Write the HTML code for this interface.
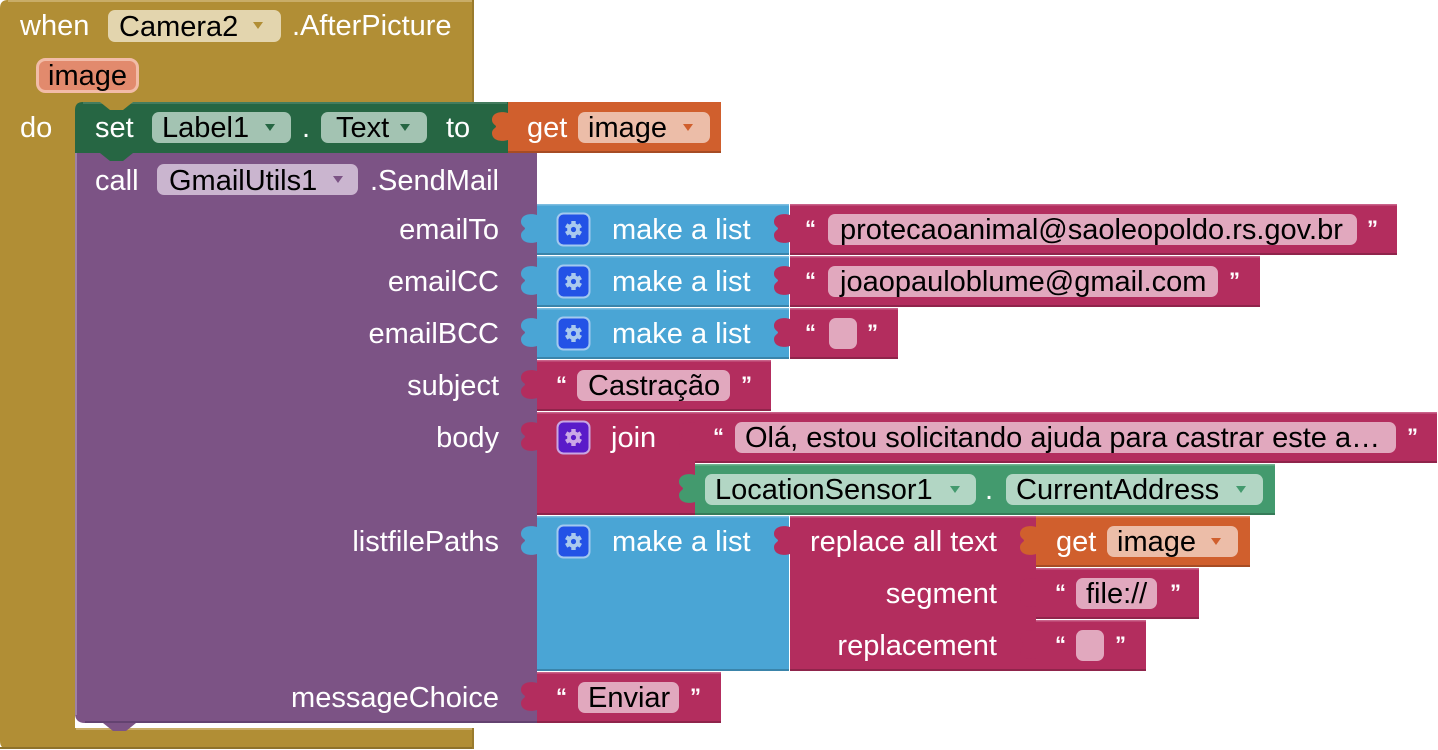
<!DOCTYPE html>
<html><head><meta charset="utf-8">
<style>
html,body{margin:0;padding:0;background:#fff;}
svg{display:block}
text{font-family:"Liberation Sans",Arial,sans-serif;font-size:29px;}
.w{fill:#fff}
.k{fill:#000}
.q{font-size:22px;font-weight:bold;fill:#fff}
</style></head>
<body>
<svg width="1438" height="750" viewBox="0 0 1438 750" xmlns="http://www.w3.org/2000/svg">
<!-- gold event block -->
<path d="M0,8 Q0,0 8,0 H474 V102 H75 V728 H474 V749 H8 Q0,749 0,741 Z" fill="#B18E35"/>
<rect x="74" y="101" width="20" height="14" fill="#B18E35"/>
<path d="M8,1 H473" stroke="#C9AD68" stroke-width="2"/>
<path d="M76,729 H473" stroke="#C9AD68" stroke-width="2"/>
<rect x="0" y="747" width="474" height="2" fill="#8E722A"/>
<rect x="472" y="0" width="2" height="102" fill="#9A7B2D"/>
<rect x="472" y="728" width="2" height="21" fill="#9A7B2D"/>

<rect x="108" y="10" width="173" height="32" rx="7" fill="#E3D5AE"/>
<text x="119" y="36" class="k">Camera2</text>
<polygon points="253,22 263,22 258,29" fill="#B18E35"/>
<text x="20" y="35" class="w">when</text>
<text x="292" y="35" class="w">.AfterPicture</text>
<rect x="37.5" y="59.5" width="100" height="32" rx="8" fill="#E28A6D" stroke="#F2BCA8" stroke-width="3"/>
<text x="48" y="85" class="k">image</text>
<text x="20" y="137" class="w">do</text>

<!-- purple call block -->
<path d="M75,153 H537 V723 H85 Q75,723 75,713 Z" fill="#7C5385"/>
<polygon points="103,723 113,731 126,731 136,723" fill="#7C5385"/>
<rect x="75" y="153" width="2" height="562" fill="#9E82A5"/>
<rect x="85" y="721" width="452" height="2" fill="#634270"/>

<!-- green set block -->
<path d="M83,102 H508 V153 H75 V110 Q75,102 83,102 Z" fill="#266643"/>
<path d="M83,103 H507" stroke="#4F8468" stroke-width="1.5"/>
<polygon points="100,102 110,110 123,110 133,102" fill="#B18E35"/>
<polygon points="100,153 110,161 123,161 133,153" fill="#266643"/>
<text x="95" y="137" class="w">set</text>
<rect x="152" y="112" width="139" height="31" rx="7" fill="#A3C3B2"/>
<text x="162" y="137" class="k">Label1</text>
<polygon points="265,124 275,124 270,131" fill="#266643"/>
<text x="302" y="137" class="w">.</text>
<rect x="321" y="112" width="106" height="31" rx="7" fill="#A3C3B2"/>
<text x="336" y="137" class="k">Text</text>
<polygon points="400,124 410,124 405,131" fill="#266643"/>
<text x="446" y="137" class="w">to</text>

<!-- get image (top) -->
<rect x="508" y="102" width="213" height="51" fill="#D05F2D"/>
<rect x="508" y="151" width="213" height="2" fill="#A64C24"/>
<path transform="translate(508,102)" d="M0,11 C-6,9 -16,10 -16,18 C-16,22 -12,23 -12,24.5 C-12,26 -16,27 -16,31 C-16,39 -6,40 0,38 Z" fill="#D05F2D"/>
<text x="527" y="137" class="w">get</text>
<rect x="578" y="112" width="132" height="31" rx="7" fill="#ECBDA8"/>
<text x="588" y="137" class="k">image</text>
<polygon points="683,124 693,124 688,131" fill="#D05F2D"/>

<!-- call row -->
<text x="95" y="190" class="w">call</text>
<rect x="157" y="164" width="201" height="31" rx="7" fill="#CAB5CF"/>
<text x="169" y="190" class="k">GmailUtils1</text>
<polygon points="333,176 343,176 338,183" fill="#7C5385"/>
<text x="370" y="190" class="w">.SendMail</text>

<g text-anchor="end">
<text x="499" y="239" class="w">emailTo</text>
<text x="499" y="291" class="w">emailCC</text>
<text x="499" y="343" class="w">emailBCC</text>
<text x="499" y="395" class="w">subject</text>
<text x="499" y="447" class="w">body</text>
<text x="499" y="551" class="w">listfilePaths</text>
<text x="499" y="707" class="w">messageChoice</text>
</g>

<!-- blue make a list blocks -->
<g>
<rect x="537" y="204" width="252" height="51" fill="#4AA5D5"/>
<rect x="537" y="204" width="252" height="1.5" fill="#7DBDE0"/>
<rect x="537" y="253" width="252" height="2" fill="#3A84AA"/>
<path transform="translate(537,204)" d="M0,11 C-6,9 -16,10 -16,18 C-16,22 -12,23 -12,24.5 C-12,26 -16,27 -16,31 C-16,39 -6,40 0,38 Z" fill="#4AA5D5"/>
<rect x="557.5" y="213.5" width="32" height="32" rx="6" fill="#2352E6" stroke="#A3C9EF" stroke-width="2"/>
<g transform="translate(573.5,229.5)" fill="#A9C9EE"><rect x="-2.2" y="-8.5" width="4.4" height="17"/><rect x="-2.2" y="-8.5" width="4.4" height="17" transform="rotate(60)"/><rect x="-2.2" y="-8.5" width="4.4" height="17" transform="rotate(120)"/><circle r="6.3"/><circle r="2.6" fill="#2352E6"/></g>
<text x="612" y="239" class="w">make a list</text>
</g>
<g>
<rect x="537" y="256" width="252" height="51" fill="#4AA5D5"/>
<rect x="537" y="256" width="252" height="1.5" fill="#7DBDE0"/>
<rect x="537" y="305" width="252" height="2" fill="#3A84AA"/>
<path transform="translate(537,256)" d="M0,11 C-6,9 -16,10 -16,18 C-16,22 -12,23 -12,24.5 C-12,26 -16,27 -16,31 C-16,39 -6,40 0,38 Z" fill="#4AA5D5"/>
<rect x="557.5" y="265.5" width="32" height="32" rx="6" fill="#2352E6" stroke="#A3C9EF" stroke-width="2"/>
<g transform="translate(573.5,281.5)" fill="#A9C9EE"><rect x="-2.2" y="-8.5" width="4.4" height="17"/><rect x="-2.2" y="-8.5" width="4.4" height="17" transform="rotate(60)"/><rect x="-2.2" y="-8.5" width="4.4" height="17" transform="rotate(120)"/><circle r="6.3"/><circle r="2.6" fill="#2352E6"/></g>
<text x="612" y="291" class="w">make a list</text>
</g>
<g>
<rect x="537" y="308" width="252" height="51" fill="#4AA5D5"/>
<rect x="537" y="308" width="252" height="1.5" fill="#7DBDE0"/>
<rect x="537" y="357" width="252" height="2" fill="#3A84AA"/>
<path transform="translate(537,308)" d="M0,11 C-6,9 -16,10 -16,18 C-16,22 -12,23 -12,24.5 C-12,26 -16,27 -16,31 C-16,39 -6,40 0,38 Z" fill="#4AA5D5"/>
<rect x="557.5" y="317.5" width="32" height="32" rx="6" fill="#2352E6" stroke="#A3C9EF" stroke-width="2"/>
<g transform="translate(573.5,333.5)" fill="#A9C9EE"><rect x="-2.2" y="-8.5" width="4.4" height="17"/><rect x="-2.2" y="-8.5" width="4.4" height="17" transform="rotate(60)"/><rect x="-2.2" y="-8.5" width="4.4" height="17" transform="rotate(120)"/><circle r="6.3"/><circle r="2.6" fill="#2352E6"/></g>
<text x="612" y="343" class="w">make a list</text>
</g>
<g>
<rect x="537" y="516" width="252" height="155" fill="#4AA5D5"/>
<rect x="537" y="516" width="252" height="1.5" fill="#7DBDE0"/>
<rect x="537" y="669" width="252" height="2" fill="#3A84AA"/>
<path transform="translate(537,516)" d="M0,11 C-6,9 -16,10 -16,18 C-16,22 -12,23 -12,24.5 C-12,26 -16,27 -16,31 C-16,39 -6,40 0,38 Z" fill="#4AA5D5"/>
<rect x="557.5" y="525.5" width="32" height="32" rx="6" fill="#2352E6" stroke="#A3C9EF" stroke-width="2"/>
<g transform="translate(573.5,541.5)" fill="#A9C9EE"><rect x="-2.2" y="-8.5" width="4.4" height="17"/><rect x="-2.2" y="-8.5" width="4.4" height="17" transform="rotate(60)"/><rect x="-2.2" y="-8.5" width="4.4" height="17" transform="rotate(120)"/><circle r="6.3"/><circle r="2.6" fill="#2352E6"/></g>
<text x="612" y="551" class="w">make a list</text>
</g>

<!-- text blocks for lists -->
<g>
<rect x="790" y="204" width="607" height="51" fill="#B32D5E"/>
<rect x="790" y="204" width="607" height="1.5" fill="#C9628A"/>
<rect x="790" y="253" width="607" height="2" fill="#8F244B"/>
<path transform="translate(790,204)" d="M0,11 C-6,9 -16,10 -16,18 C-16,22 -12,23 -12,24.5 C-12,26 -16,27 -16,31 C-16,39 -6,40 0,38 Z" fill="#B32D5E"/>
<text x="805" y="236" class="q">“</text>
<rect x="828" y="214" width="529" height="31" rx="7" fill="#E1A8BE"/>
<text x="840" y="239" class="k">protecaoanimal@saoleopoldo.rs.gov.br</text>
<text x="1367" y="236" class="q">”</text>
</g>
<g>
<rect x="790" y="256" width="470" height="51" fill="#B32D5E"/>
<rect x="790" y="256" width="470" height="1.5" fill="#C9628A"/>
<rect x="790" y="305" width="470" height="2" fill="#8F244B"/>
<path transform="translate(790,256)" d="M0,11 C-6,9 -16,10 -16,18 C-16,22 -12,23 -12,24.5 C-12,26 -16,27 -16,31 C-16,39 -6,40 0,38 Z" fill="#B32D5E"/>
<text x="805" y="288" class="q">“</text>
<rect x="828" y="266" width="390" height="31" rx="7" fill="#E1A8BE"/>
<text x="840" y="291" class="k">joaopauloblume@gmail.com</text>
<text x="1229" y="288" class="q">”</text>
</g>
<g>
<rect x="790" y="308" width="108" height="51" fill="#B32D5E"/>
<rect x="790" y="308" width="108" height="1.5" fill="#C9628A"/>
<rect x="790" y="357" width="108" height="2" fill="#8F244B"/>
<path transform="translate(790,308)" d="M0,11 C-6,9 -16,10 -16,18 C-16,22 -12,23 -12,24.5 C-12,26 -16,27 -16,31 C-16,39 -6,40 0,38 Z" fill="#B32D5E"/>
<text x="805" y="340" class="q">“</text>
<rect x="829" y="318" width="28" height="31" rx="7" fill="#E1A8BE"/>
<text x="867" y="340" class="q">”</text>
</g>

<!-- subject -->
<g>
<rect x="537" y="360" width="234" height="51" fill="#B32D5E"/>
<rect x="537" y="360" width="234" height="1.5" fill="#C9628A"/>
<rect x="537" y="409" width="234" height="2" fill="#8F244B"/>
<path transform="translate(537,360)" d="M0,11 C-6,9 -16,10 -16,18 C-16,22 -12,23 -12,24.5 C-12,26 -16,27 -16,31 C-16,39 -6,40 0,38 Z" fill="#B32D5E"/>
<text x="556" y="392" class="q">“</text>
<rect x="577" y="370" width="153" height="31" rx="7" fill="#E1A8BE"/>
<text x="588" y="395" class="k">Castração</text>
<text x="741" y="392" class="q">”</text>
</g>

<!-- join -->
<g>
<rect x="537" y="412" width="158" height="103" fill="#B32D5E"/>
<rect x="537" y="412" width="158" height="1.5" fill="#C9628A"/>
<rect x="537" y="513" width="158" height="2" fill="#8F244B"/>
<path transform="translate(537,412)" d="M0,11 C-6,9 -16,10 -16,18 C-16,22 -12,23 -12,24.5 C-12,26 -16,27 -16,31 C-16,39 -6,40 0,38 Z" fill="#B32D5E"/>
<rect x="557.5" y="421.5" width="32" height="32" rx="6" fill="#5A1BC9" stroke="#C9A6E2" stroke-width="2"/>
<g transform="translate(573.5,437.5)" fill="#CBA9E6"><rect x="-2.2" y="-8.5" width="4.4" height="17"/><rect x="-2.2" y="-8.5" width="4.4" height="17" transform="rotate(60)"/><rect x="-2.2" y="-8.5" width="4.4" height="17" transform="rotate(120)"/><circle r="6.3"/><circle r="2.6" fill="#5A1BC9"/></g>
<text x="611" y="447" class="w">join</text>
</g>
<g>
<rect x="695" y="412" width="742" height="51" fill="#B32D5E"/>
<rect x="695" y="412" width="742" height="1.5" fill="#C9628A"/>
<rect x="695" y="461" width="742" height="2" fill="#8F244B"/>
<path transform="translate(695,412)" d="M0,11 C-6,9 -16,10 -16,18 C-16,22 -12,23 -12,24.5 C-12,26 -16,27 -16,31 C-16,39 -6,40 0,38 Z" fill="#B32D5E"/>
<text x="713" y="444" class="q">“</text>
<rect x="735" y="422" width="661" height="31" rx="7" fill="#E1A8BE"/>
<text x="745" y="447" class="k">Olá, estou solicitando ajuda para castrar este a…</text>
<text x="1407" y="444" class="q">”</text>
</g>
<g>
<rect x="695" y="464" width="580" height="51" fill="#439A6E"/>
<rect x="695" y="464" width="580" height="1.5" fill="#72B390"/>
<rect x="695" y="513" width="580" height="2" fill="#367B58"/>
<path transform="translate(695,464)" d="M0,11 C-6,9 -16,10 -16,18 C-16,22 -12,23 -12,24.5 C-12,26 -16,27 -16,31 C-16,39 -6,40 0,38 Z" fill="#439A6E"/>
<rect x="705" y="474" width="271" height="31" rx="7" fill="#B2D6C4"/>
<text x="715" y="499" class="k">LocationSensor1</text>
<polygon points="950,486 960,486 955,493" fill="#439A6E"/>
<text x="985" y="499" class="w">.</text>
<rect x="1006" y="474" width="257" height="31" rx="7" fill="#B2D6C4"/>
<text x="1016" y="499" class="k">CurrentAddress</text>
<polygon points="1236,486 1246,486 1241,493" fill="#439A6E"/>
</g>

<!-- replace all text -->
<g>
<rect x="790" y="516" width="246" height="155" fill="#B32D5E"/>
<rect x="790" y="516" width="246" height="1.5" fill="#C9628A"/>
<rect x="790" y="669" width="246" height="2" fill="#8F244B"/>
<path transform="translate(790,516)" d="M0,11 C-6,9 -16,10 -16,18 C-16,22 -12,23 -12,24.5 C-12,26 -16,27 -16,31 C-16,39 -6,40 0,38 Z" fill="#B32D5E"/>
<text x="997" y="551" class="w" text-anchor="end">replace all text</text>
<text x="997" y="603" class="w" text-anchor="end">segment</text>
<text x="997" y="655" class="w" text-anchor="end">replacement</text>
</g>
<g>
<rect x="1036" y="516" width="214" height="51" fill="#D05F2D"/>
<rect x="1036" y="516" width="214" height="1.5" fill="#DC8A66"/>
<rect x="1036" y="565" width="214" height="2" fill="#A64C24"/>
<path transform="translate(1036,516)" d="M0,11 C-6,9 -16,10 -16,18 C-16,22 -12,23 -12,24.5 C-12,26 -16,27 -16,31 C-16,39 -6,40 0,38 Z" fill="#D05F2D"/>
<text x="1056" y="551" class="w">get</text>
<rect x="1107" y="526" width="131" height="31" rx="7" fill="#ECBDA8"/>
<text x="1117" y="551" class="k">image</text>
<polygon points="1211,538 1221,538 1216,545" fill="#D05F2D"/>
</g>
<g>
<rect x="1036" y="568" width="163" height="51" fill="#B32D5E"/>
<rect x="1036" y="568" width="163" height="1.5" fill="#C9628A"/>
<rect x="1036" y="617" width="163" height="2" fill="#8F244B"/>
<path transform="translate(1036,568)" d="M0,11 C-6,9 -16,10 -16,18 C-16,22 -12,23 -12,24.5 C-12,26 -16,27 -16,31 C-16,39 -6,40 0,38 Z" fill="#B32D5E"/>
<text x="1055" y="600" class="q">“</text>
<rect x="1076" y="578" width="81" height="31" rx="7" fill="#E1A8BE"/>
<text x="1086" y="603" class="k">file://</text>
<text x="1170" y="600" class="q">”</text>
</g>
<g>
<rect x="1036" y="620" width="110" height="51" fill="#B32D5E"/>
<rect x="1036" y="620" width="110" height="1.5" fill="#C9628A"/>
<rect x="1036" y="669" width="110" height="2" fill="#8F244B"/>
<path transform="translate(1036,620)" d="M0,11 C-6,9 -16,10 -16,18 C-16,22 -12,23 -12,24.5 C-12,26 -16,27 -16,31 C-16,39 -6,40 0,38 Z" fill="#B32D5E"/>
<text x="1055" y="652" class="q">“</text>
<rect x="1076" y="630" width="28" height="31" rx="7" fill="#E1A8BE"/>
<text x="1115" y="652" class="q">”</text>
</g>

<!-- Enviar -->
<g>
<rect x="537" y="672" width="184" height="51" fill="#B32D5E"/>
<rect x="537" y="672" width="184" height="1.5" fill="#C9628A"/>
<rect x="537" y="721" width="184" height="2" fill="#8F244B"/>
<path transform="translate(537,672)" d="M0,11 C-6,9 -16,10 -16,18 C-16,22 -12,23 -12,24.5 C-12,26 -16,27 -16,31 C-16,39 -6,40 0,38 Z" fill="#B32D5E"/>
<text x="556" y="704" class="q">“</text>
<rect x="578" y="682" width="101" height="31" rx="7" fill="#E1A8BE"/>
<text x="588" y="707" class="k">Enviar</text>
<text x="690" y="704" class="q">”</text>
</g>
</svg>
</body></html>
